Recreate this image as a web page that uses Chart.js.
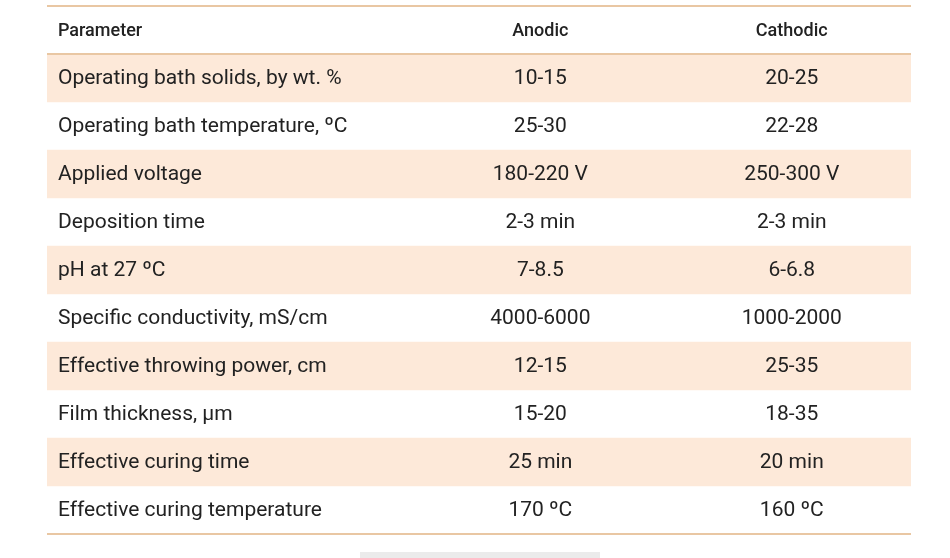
<!DOCTYPE html>
<html>
<head>
<meta charset="utf-8">
<script src="https://cdn.jsdelivr.net/npm/chart.js@4"></script>
<style>
  body { margin: 0; background: #fff; }
  canvas { display: block; }
</style>
</head>
<body>
<canvas id="tabla" width="950" height="558"></canvas>
<script>
const encabezados = ["Parameter", "Anodic", "Cathodic"];
const parametros = [
  "Operating bath solids, by wt. %",
  "Operating bath temperature, ºC",
  "Applied voltage",
  "Deposition time",
  "pH at 27 ºC",
  "Specific conductivity, mS/cm",
  "Effective throwing power, cm",
  "Film thickness, µm",
  "Effective curing time",
  "Effective curing temperature"
];
const anodico = ["10-15", "25-30", "180-220 V", "2-3 min", "7-8.5", "4000-6000", "12-15", "15-20", "25 min", "170 ºC"];
const catodico = ["20-25", "22-28", "250-300 V", "2-3 min", "6-6.8", "1000-2000", "25-35", "18-35", "20 min", "160 ºC"];

const filas = [encabezados[0]].concat(parametros);
// franjas: filas impares del cuerpo
const franjas = filas.map((f, i) => (i > 0 && i % 2 === 1) ? [0, 1] : null);

const colX = [0.0127, 0.571, 0.862];
const linea = "#e9c7a3";

const dibujarTabla = {
  id: "dibujarTabla",
  afterDatasetsDraw(chart) {
    const { ctx, scales, chartArea } = chart;
    const x = scales.x, y = scales.y;
    const alto = y.getPixelForValue(1) - y.getPixelForValue(0);
    ctx.save();
    ctx.textBaseline = "middle";
    ctx.fillStyle = "#222";
    filas.forEach((f, i) => {
      const py = y.getPixelForValue(i);
      const cab = i === 0;
      ctx.font = cab ? "500 18px Roboto" : "21px Roboto";
      ctx.textAlign = "left";
      ctx.fillText(f, x.getPixelForValue(colX[0]), py + 1);
      ctx.textAlign = "center";
      const a = cab ? encabezados[1] : anodico[i - 1];
      const c = cab ? encabezados[2] : catodico[i - 1];
      ctx.fillText(a, x.getPixelForValue(colX[1]), py + 1);
      ctx.fillText(c, x.getPixelForValue(colX[2]), py + 1);
    });
    ctx.strokeStyle = linea;
    ctx.lineWidth = 2;
    [chartArea.top, chartArea.top + alto, chartArea.bottom].forEach(ly => {
      ctx.beginPath();
      ctx.moveTo(chartArea.left, ly);
      ctx.lineTo(chartArea.right, ly);
      ctx.stroke();
    });
    ctx.fillStyle = "#ebebeb";
    ctx.fillRect(360, 552, 240, 6);
    ctx.restore();
  }
};

new Chart(document.getElementById("tabla"), {
  type: "bar",
  data: {
    labels: filas,
    datasets: [{
      data: franjas,
      backgroundColor: "#fde9d9",
      borderWidth: 0,
      barPercentage: 1,
      categoryPercentage: 1
    }]
  },
  options: {
    indexAxis: "y",
    responsive: false,
    animation: false,
    devicePixelRatio: 1,
    layout: { padding: { left: 47, right: 39, top: 6, bottom: 24 } },
    plugins: { legend: { display: false }, tooltip: { enabled: false } },
    scales: {
      x: { min: 0, max: 1, display: false },
      y: { display: false }
    }
  },
  plugins: [dibujarTabla]
});
</script>
</body>
</html>
